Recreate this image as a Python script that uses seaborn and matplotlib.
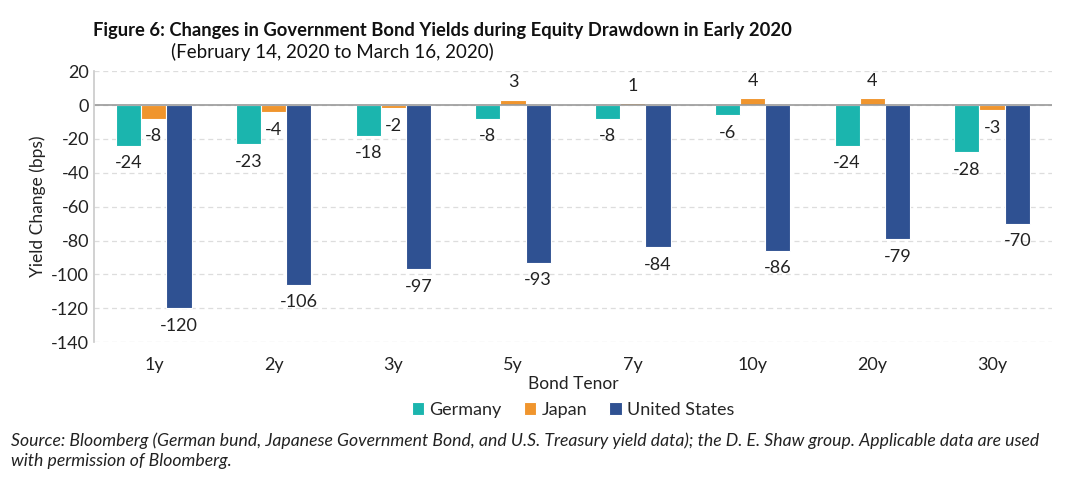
import pandas as pd
import matplotlib.pyplot as plt
import seaborn as sns

tenors = ['1y', '2y', '3y', '5y', '7y', '10y', '20y', '30y']
germany = [-24, -23, -18, -8, -8, -6, -24, -28]
japan = [-8, -4, -2, 3, 1, 4, 4, -3]
united_states = [-120, -106, -97, -93, -84, -86, -79, -70]
countries = ['Germany', 'Japan', 'United States']
colors = ['#1bb5ae', '#f0952d', '#2f5192']

if __name__ == '__main__':

    sns.set_theme(style='white')
    plt.rcParams['font.family'] = ['Lato', 'DejaVu Sans']
    plt.rcParams['axes.unicode_minus'] = False

    df = pd.DataFrame({'Bond Tenor': tenors * 3,
                       'Yield': germany + japan + united_states,
                       'Country': [c for c in countries for _ in tenors]})

    fig = plt.figure(figsize=(10.8, 4.84), dpi=100)
    ax = fig.add_axes([0.087, 0.293, 0.887, 0.56])

    sns.barplot(data=df, x='Bond Tenor', y='Yield', hue='Country',
                palette=colors, width=0.63, edgecolor='white', linewidth=0.8,
                saturation=1, ax=ax, legend=True)

    for cont in ax.containers:
        ax.bar_label(cont, padding=7, fontsize=13, color='#222222')

    ax.set_ylim(-140, 20)
    ax.set_yticks(range(-140, 21, 20))
    ax.yaxis.grid(True, linestyle=(0, (4, 3)), color='#dddddd', linewidth=0.9)
    ax.set_axisbelow(True)
    ax.axhline(0, color='#999999', linewidth=1.2, zorder=1)
    for s in ['top', 'right', 'bottom']:
        ax.spines[s].set_visible(False)
    ax.spines['left'].set_color('#cccccc')
    ax.tick_params(axis='both', labelsize=13, colors='#222222', length=0)
    ax.tick_params(axis='x', pad=11)
    ax.set_xlabel('Bond Tenor', fontsize=12.5, color='#222222', labelpad=2)
    ax.set_ylabel('Yield Change (bps)', fontsize=12.5, color='#222222')

    ax.legend(loc='upper center', bbox_to_anchor=(0.5, -0.16), ncol=3,
              frameon=False, fontsize=13, handlelength=0.7, handleheight=0.7,
              handletextpad=0.3, columnspacing=1.2)

    fig.text(0.086, 0.925, 'Figure 6: Changes in Government Bond Yields during Equity Drawdown in Early 2020',
             fontsize=13.2, fontweight='bold', color='#111111')
    fig.text(0.158, 0.88, '(February 14, 2020 to March 16, 2020)',
             fontsize=13.5, color='#111111')
    fig.text(0.01, 0.068, 'Source: Bloomberg (German bund, Japanese Government Bond, and U.S. Treasury yield data); '
             'the D. E. Shaw group. Applicable data are used\nwith permission of Bloomberg.',
             fontsize=12.7, fontstyle='italic', color='#222222', linespacing=1.3, va='center')

    plt.savefig('out.png', dpi=100)
